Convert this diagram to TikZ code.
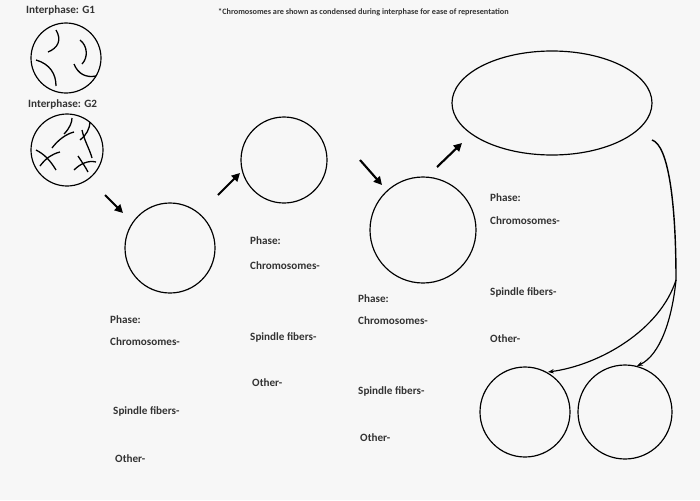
\documentclass[tikz,border=0pt]{standalone}
\usepackage{fontspec}
\setmainfont{Carlito}
\usetikzlibrary{arrows.meta,shapes.geometric}
\begin{document}
\begin{tikzpicture}[x=0.03cm,y=-0.03cm,
  lbl/.style={anchor=west,font=\fontsize{9.5}{11}\selectfont\bfseries,text=black!80,inner sep=0pt},
  cell/.style={draw,line width=1pt},
  chrom/.style={line width=1.1pt},
  bigarrow/.style={-{Triangle[length=7pt,width=7pt]},line width=1.8pt},
  curv/.style={line width=1pt,-{Stealth[length=5pt]}}]
\fill[gray!6] (0,0) rectangle (700,500);
\useasboundingbox (0,0) rectangle (700,500);
\node[lbl] (t1) at (26,10) {Interphase: G1};
\node[lbl,font=\fontsize{7}{8}\selectfont\bfseries] (note) at (218,12) {*Chromosomes are shown as condensed during interphase for ease of representation};
\node[lbl] (t2) at (28,104) {Interphase: G2};
% G1
\node[cell,circle,minimum size=70*0.03cm] (g1) at (66,58) {};
\draw[chrom] (56,30) .. controls (62,40) and (58,48) .. (48,52);
\draw[chrom] (80,40) .. controls (88,46) and (88,58) .. (82,64);
\draw[chrom] (36,60) .. controls (50,64) and (56,74) .. (56,86);
\draw[chrom] (74,64) .. controls (78,74) and (86,78) .. (96,76);
% G2
\node[cell,circle,minimum size=72*0.03cm] (g2) at (67,150) {};
\draw[chrom] (52,148) .. controls (58,140) and (66,134) .. (74,132);
\draw[chrom] (64,134) .. controls (70,128) and (72,122) .. (72,118);
\draw[chrom] (80,140) .. controls (86,136) and (90,128) .. (90,122);
\draw[chrom] (82,130) .. controls (84,140) and (90,150) .. (92,158);
\draw[chrom] (36,150) .. controls (44,154) and (50,160) .. (56,170);
\draw[chrom] (40,166) .. controls (46,158) and (52,154) .. (60,152);
\draw[chrom] (74,170) .. controls (80,164) and (88,160) .. (96,162);
\draw[chrom] (78,156) .. controls (82,162) and (86,168) .. (88,172);
% main cells
\node[cell,circle,minimum size=90*0.03cm] (c1) at (170,248) {};
\node[cell,circle,minimum size=86*0.03cm] (c2) at (284,160) {};
\node[cell,circle,minimum size=106*0.03cm] (c3) at (423,230) {};
\node[cell,ellipse,inner sep=0pt,minimum width=200*0.03cm,minimum height=104*0.03cm] (c4) at (552,103) {};
\node[cell,circle,minimum size=90*0.03cm] (c5) at (525,412) {};
\node[cell,circle,minimum size=94*0.03cm] (c6) at (625,412) {};
% arrows
\coordinate (a1s) at (105,195); \coordinate (a1e) at (123,213);
\coordinate (a2s) at (218,195); \coordinate (a2e) at (240,173);
\coordinate (a3s) at (360,160); \coordinate (a3e) at (382,185);
\coordinate (a4s) at (437,167); \coordinate (a4e) at (462,143);
\draw[bigarrow] (a1s) -- (a1e);
\draw[bigarrow] (a2s) -- (a2e);
\draw[bigarrow] (a3s) -- (a3e);
\draw[bigarrow] (a4s) -- (a4e);
\coordinate (cs) at (652,140); \coordinate (cm) at (676,280);
\coordinate (e1) at (548,372); \coordinate (e2) at (637,366);
\draw[line width=1.2pt] (cs) .. controls (668,145) and (676,200) .. (cm);
\draw[curv] (cm) .. controls (660,330) and (600,365) .. (e1);
\draw[curv] (cm) .. controls (672,320) and (660,355) .. (e2);
% labels
\node[lbl] (p1) at (110,320) {Phase:};
\node[lbl] (h1) at (110,342) {Chromosomes-};
\node[lbl] (s1) at (113,411) {Spindle fibers-};
\node[lbl] (o1) at (115,459) {Other-};
\node[lbl] (p2) at (250,241) {Phase:};
\node[lbl] (h2) at (250,266) {Chromosomes-};
\node[lbl] (s2) at (250,337) {Spindle fibers-};
\node[lbl] (o2) at (252,383) {Other-};
\node[lbl] (p3) at (358,299) {Phase:};
\node[lbl] (h3) at (358,321) {Chromosomes-};
\node[lbl] (s3) at (358,391) {Spindle fibers-};
\node[lbl] (o3) at (360,438) {Other-};
\node[lbl] (p4) at (490,198) {Phase:};
\node[lbl] (h4) at (490,221) {Chromosomes-};
\node[lbl] (s4) at (490,292) {Spindle fibers-};
\node[lbl] (o4) at (490,339) {Other-};
\end{tikzpicture}
\end{document}
